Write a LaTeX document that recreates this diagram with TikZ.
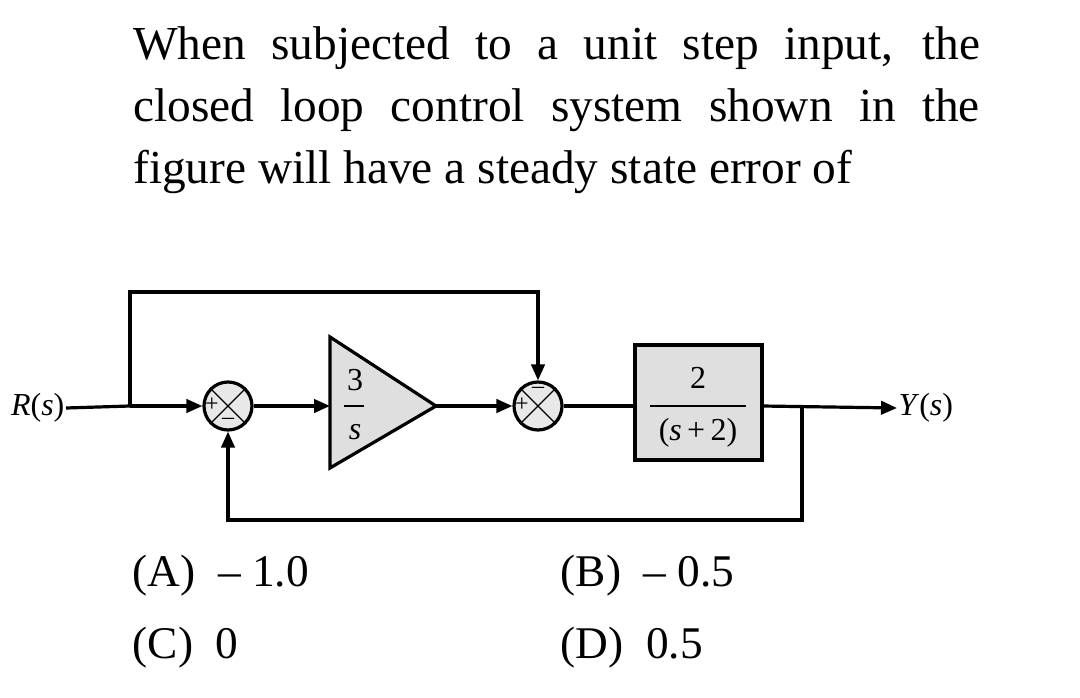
\documentclass[tikz,border=0pt]{standalone}
\usepackage{fontspec}
\setmainfont{Liberation Serif}
\usetikzlibrary{arrows.meta}
\begin{document}
\begin{tikzpicture}[x=0.75pt,y=-0.75pt,
  wire/.style={line width=2.4pt},
  arr/.style={wire,-{Triangle[length=12pt,width=10pt]}},
  sumj/.style={circle,draw,line width=2.4pt,fill=gray!18,minimum size=36pt,inner sep=0pt},
  blk/.style={draw,line width=2.4pt,fill=gray!25},
  lbl/.style={font=\fontsize{24}{28}\selectfont},
  opt/.style={anchor=west,font=\fontsize{34}{40}\selectfont}]
\useasboundingbox (0,0) rectangle (1080,698);
\node[anchor=north west,inner sep=0pt] (q) at (133,16) {\fontsize{35.5}{46.5}\selectfont
\begin{tabular}{@{}l@{}}
\makebox[635pt][s]{When subjected to a unit step input, the}\\
\makebox[635pt][s]{closed loop control system shown in the}\\
figure will have a steady state error of
\end{tabular}};
\node[anchor=east,inner sep=1pt,lbl] (R) at (66,408) {\textit{R}(\textit{s})};
\coordinate (j) at (130,406);
\node[sumj] (s1) at (228,406) {};
\draw[line width=1pt] (s1.north west)--(s1.south east) (s1.north east)--(s1.south west);
\node[font=\fontsize{18}{18}\selectfont] at (212,405) {+};
\node[font=\fontsize{18}{18}\selectfont] at (228,421) {--};
\node[sumj] (s2) at (538,406) {};
\draw[line width=1pt] (s2.north west)--(s2.south east) (s2.north east)--(s2.south west);
\node[font=\fontsize{18}{18}\selectfont] at (522,405) {+};
\node[font=\fontsize{18}{18}\selectfont] at (538,390) {--};
\draw[blk] (330,337) -- (436,406) -- (330,468) -- cycle;
\coordinate (tin) at (330,406);
\coordinate (tout) at (436,406);
\node[lbl] at (355,380) {3};
\draw[line width=1pt] (344,406) -- (364,406);
\node[lbl] at (355,432) {\textit{s}};
\draw[blk] (635,345) rectangle (762,460);
\coordinate (bw) at (635,406);
\coordinate (be) at (762,406);
\node[lbl] at (698,378) {2};
\draw[line width=1pt] (650,406) -- (746,406);
\node[lbl] at (698,433) {(\textit{s}\,+\,2)};
\node[anchor=west,inner sep=1pt,lbl] (Y) at (897,408) {\textit{Y}(\textit{s})};
\coordinate (fb) at (802,406);
\draw[wire] (R.east) -- (j);
\draw[arr] (j) -- (s1.west);
\draw[arr] (j) -- (130,292) -- (538,292) -- (s2.north);
\draw[arr] (s1.east) -- (tin);
\draw[arr] (tout) -- (s2.west);
\draw[wire] (s2.east) -- (bw);
\draw[arr] (be) -- (Y.west);
\draw[arr] (fb) -- (802,520) -- (228,520) -- (s1.south);
\node[opt] (A) at (128,576) {(A) \ -- 1.0};
\node[opt] (B) at (556,576) {(B) \ -- 0.5};
\node[opt] (C) at (128,648) {(C) \ 0};
\node[opt] (D) at (556,648) {(D) \ 0.5};
\end{tikzpicture}
\end{document}
